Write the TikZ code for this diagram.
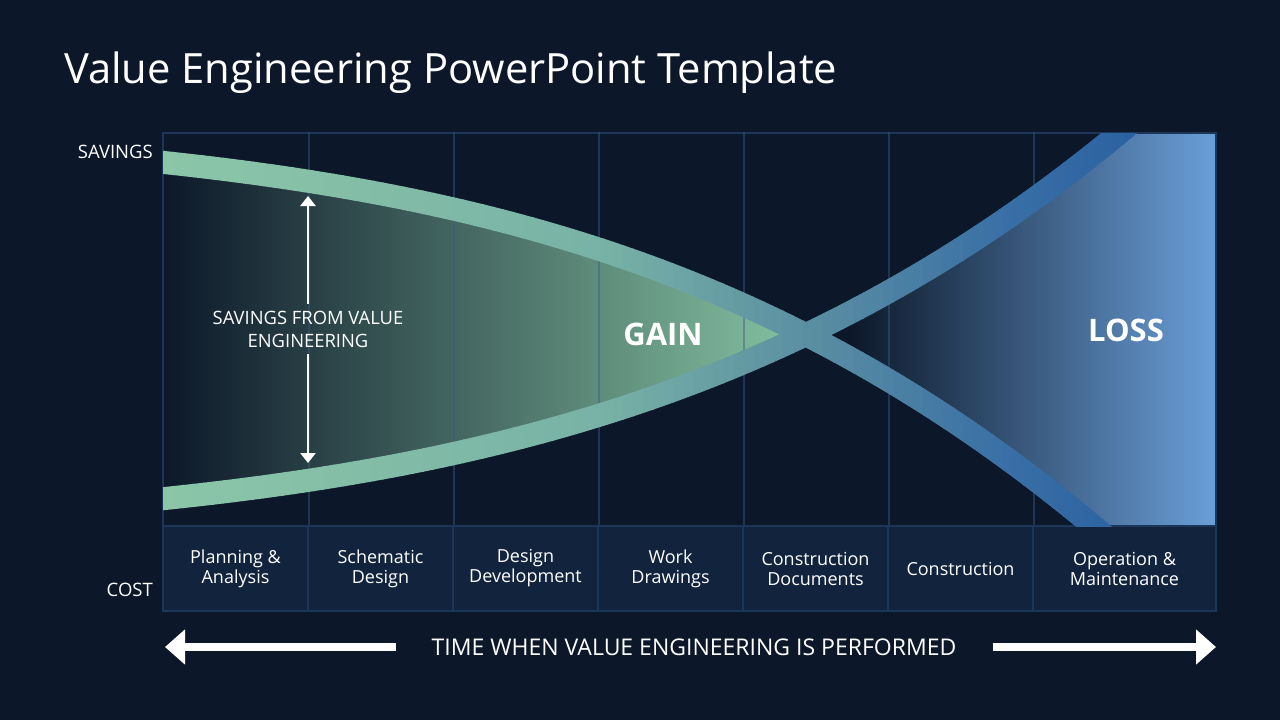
\documentclass[tikz,border=0pt]{standalone}
\usepackage{fontspec}
\setmainfont{Open Sans}
\usetikzlibrary{arrows.meta, positioning, calc}

\definecolor{bgcol}{HTML}{0C1829}
\definecolor{gridcol}{HTML}{1D3558}
\definecolor{gridlite}{HTML}{3A5A88}
\definecolor{rowcol}{HTML}{12233E}
\definecolor{bandA}{HTML}{8CC6A8}
\definecolor{bandB}{HTML}{78B2A6}
\definecolor{bandC}{HTML}{5A8EA2}
\definecolor{bandD}{HTML}{3A70A6}
\definecolor{bandE}{HTML}{2A60A0}
\definecolor{gaingreen}{HTML}{82BE9E}
\definecolor{gainmid}{HTML}{2E434F}
\definecolor{lossblue}{HTML}{6A9FD8}
\definecolor{lossmid}{HTML}{2E4A6C}

% the two crossing curves (pixel units, y downwards)
\newcommand{\savecurve}{(140,160) .. controls (500,196) and (800,277) .. (1105,536)}
\newcommand{\costcurve}{(140,501) .. controls (500,466) and (820,385) .. (1130,124)}
\newcommand{\lobes}{(140,501) .. controls (500,466) and (820,385) .. (1130,124) -- (1240,124) -- (1240,540) -- (1105,536) .. controls (800,277) and (500,196) .. (140,160) -- cycle}

\begin{document}
\begin{tikzpicture}[x=1pt, y=-1pt,
		% Chart styles
		gridline/.style={draw=gridcol, line width=1.5pt},
		cell/.style={draw=gridcol, line width=1.5pt, fill=rowcol, minimum height=85pt, inner sep=0pt, align=center, text=white, font=\fontsize{18}{20}\selectfont},
		band/.style={line width=23pt},
		% Text styles
		axislabel/.style={text=white, font=\fontsize{18.5}{20}\selectfont, inner sep=0pt},
		bigword/.style={text=white, font=\fontsize{31}{34}\selectfont\bfseries},
		thinarrow/.style={draw=white, line width=2.5pt, -{Triangle[length=10pt, width=15pt]}},
		bigarrow/.style={draw=white, line width=8pt, -{Triangle[length=20pt, width=34pt]}}
		]
		
		\fill[bgcol, use as bounding box] (0,0) rectangle (1280,720);
		
		% --- TITLE ---
		\node[anchor=base west, inner sep=0pt, text=white, font=\fontsize{41.7}{48}\selectfont] (title) at (64,83) {Value Engineering PowerPoint Template};
		
		% --- GAIN / LOSS AREAS ---
		\begin{scope}
			\clip \lobes;
			\shade[left color=bgcol, middle color=gainmid, right color=gaingreen] (163,133) rectangle (785,526);
			\shade[left color=bgcol, middle color=lossmid, right color=lossblue] (850,133) rectangle (1216,526);
		\end{scope}
		
		% --- GRID ---
		\draw[gridline] (163,526) -- (163,133) -- (1216,133) -- (1216,526);
		
		% 1. Phase cells
		\foreach \n/\x/\w/\txt in {c1/235.5/145/{Planning \&\\Analysis}, c2/380.5/145/{Schematic\\Design}, c3/525.5/145/{Design\\Development}, c4/670.5/145/{Work\\Drawings}, c5/815.5/145/{Construction\\Documents}, c6/960.5/145/{Construction}, c7/1124.5/183/{Operation \&\\Maintenance}}
		\node[cell, minimum width=\w] (\n) at (\x,568.5) {\txt};
		
		% 2. Column lines
		\foreach \n in {c1,c2,c3,c4,c5,c6}
		\draw[gridline, draw=gridlite, draw opacity=0.45] (\n.north east) -- ++(0,-393);
		
		% --- CURVES (strips for the colour ramp) ---
		\foreach \i in {0,...,99}{
			\pgfmathsetmacro{\xa}{163+\i*10}
			\pgfmathsetmacro{\xs}{\xa+5}
			\ifdim\xs pt<600pt
			\pgfmathtruncatemacro{\p}{(\xs-163)/437*100}\colorlet{bandc}{bandB!\p!bandA}
			\else\ifdim\xs pt<810pt
			\pgfmathtruncatemacro{\p}{(\xs-600)/210*100}\colorlet{bandc}{bandC!\p!bandB}
			\else\ifdim\xs pt<1000pt
			\pgfmathtruncatemacro{\p}{(\xs-810)/190*100}\colorlet{bandc}{bandD!\p!bandC}
			\else
			\pgfmathtruncatemacro{\p}{min(100,(\xs-1000)/140*100)}\colorlet{bandc}{bandE!\p!bandD}
			\fi\fi\fi
			\begin{scope}
				\clip (\xa,133) rectangle (\xa+11,526);
				\draw[band, bandc] \savecurve;
				\draw[band, bandc] \costcurve;
			\end{scope}
		}
		
		% --- LABELS ---
		\coordinate (savY) at (163,152);
		\coordinate (costY) at (163,590);
		\node[axislabel, left=10pt of savY] (sav) {SAVINGS};
		\node[axislabel, left=10pt of costY] (cost) {COST};
		
		\node[axislabel, align=center, font=\fontsize{18.4}{23}\selectfont, inner sep=7pt] (sv) at (308,329) {SAVINGS FROM VALUE\\ENGINEERING};
		\coordinate (svUp) at (308,196);
		\coordinate (svDown) at (308,463);
		\draw[thinarrow] (sv.north) -- (svUp);
		\draw[thinarrow] (sv.south) -- (svDown);
		
		\node[bigword] (gain) at (663,334) {GAIN};
		\node[bigword] (loss) at (1126,330) {LOSS};
		
		% --- TIME AXIS ---
		\node[axislabel, font=\fontsize{23}{26}\selectfont] (time) at (694,647) {TIME WHEN VALUE ENGINEERING IS PERFORMED};
		\coordinate (tLeft) at (165,647);
		\coordinate (tRight) at (1216,647);
		\draw[bigarrow, shorten <=35pt] (time.west) -- (tLeft);
		\draw[bigarrow, shorten <=36pt] (time.east) -- (tRight);
		
	\end{tikzpicture}
\end{document}
